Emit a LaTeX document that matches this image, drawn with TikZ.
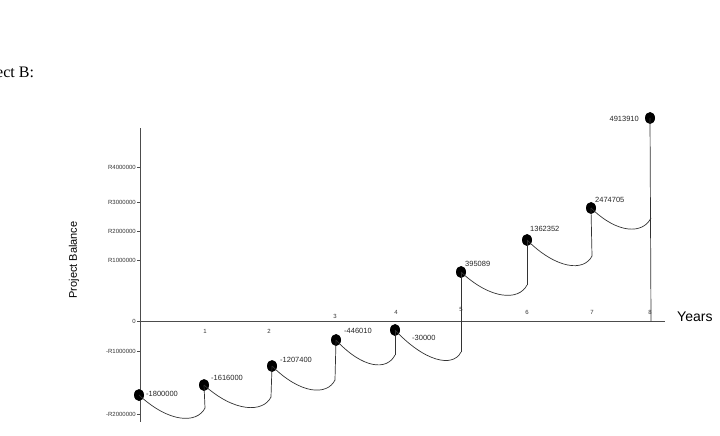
\documentclass[tikz,border=0pt]{standalone}
\usepackage{fontspec}
\usetikzlibrary{shapes.geometric,calc}
\setmainfont{Liberation Serif}
\newfontfamily\lsans{Liberation Sans}
\begin{document}
\begin{tikzpicture}[x=1pt,y=-1pt,
  axis/.style={draw=black!70,line width=0.8pt},
  flow/.style={draw=black!80,line width=0.7pt},
  dot/.style={ellipse,fill=black,minimum width=10pt,minimum height=12pt,inner sep=0pt},
  tick/.style={font=\lsans\fontsize{6}{6}\selectfont,text=black!80,anchor=east,inner sep=1pt},
  yr/.style={font=\lsans\fontsize{6}{6}\selectfont,text=black!80,inner sep=0pt},
  val/.style={font=\lsans\fontsize{7.5}{8}\selectfont,text=black!85,anchor=west,inner sep=1pt}]
\useasboundingbox (0,0) rectangle (720,436);
\node[font=\fontsize{16}{16}\selectfont,anchor=west,inner sep=0pt] (title) at (-4,72) {ect B:};
\coordinate (ytop) at (140,128);
\coordinate (ybot) at (140,422);
\coordinate (o) at (140,321);
\coordinate (xend) at (665,321);
\draw[axis] (ytop) -- (ybot);
\draw[axis] (o) -- (xend);
\node[font=\lsans\fontsize{14}{14}\selectfont,anchor=west,inner sep=0pt] (years) at (677,317) {Years};
\node[font=\lsans\fontsize{11}{11}\selectfont,rotate=90,inner sep=0pt] (pb) at (74,260) {Project Balance};
\foreach \n/\y/\t in {a/167/R4000000,b/202/R3000000,c/231/R2000000,d/260/R1000000,e/321/0,f/351/-R1000000,g/414/-R2000000}{
  \node[tick] (t\n) at (137,\y) {\t};
  \draw[axis,line width=0.5pt] (137,\y) -- (140,\y);
}
\foreach \i/\x/\y in {1/205/331,2/269/331,3/335/316,4/396/312,5/461/309,6/527/312,7/592/312,8/650/312}{
  \node[yr] (yr\i) at (\x,\y) {\i};
}
\node[dot] (p0) at (139,395) {};
\node[dot] (p1) at (204,385) {};
\node[dot] (p2) at (272,366) {};
\node[dot] (p3) at (336,340) {};
\node[dot] (p4) at (395,330) {};
\node[dot] (p5) at (461,272) {};
\node[dot] (p6) at (527,240) {};
\node[dot] (p7) at (591,208) {};
\node[dot] (p8) at (650,118) {};
\node[val] (l0) at (145,394) {-1800000};
\node[val] (l1) at (210,378) {-1616000};
\node[val] (l2) at (279,360) {-1207400};
\node[val] (l3) at (343,331) {-446010};
\node[val] (l4) at (411,338) {-30000};
\node[val] (l5) at (464,264) {395089};
\node[val] (l6) at (529,229) {1362352};
\node[val] (l7) at (594,200) {2474705};
\node[val,anchor=east] (l8) at (640,119) {4913910};
\coordinate (e1) at (205,408);
\coordinate (e2) at (271,397);
\coordinate (e3) at (335,380);
\coordinate (e4) at (395,355);
\coordinate (e5) at (461,352);
\coordinate (e6) at (527,285);
\coordinate (e7) at (592,256);
\coordinate (e8) at (651,218);
\coordinate (x8) at (651,321);
\foreach \a/\b in {p0/e1,p1/e2,p2/e3,p3/e4,p4/e5,p5/e6,p6/e7,p7/e8}{
  \draw[flow] (\a.center) .. controls ($(\a.center)!0.45!(\b)+(0,22)$) and ($(\b)+(-8,16)$) .. (\b);
}
\draw[flow] (e1) -- (p1.center);
\draw[flow] (e2) -- (p2.center);
\draw[flow] (e3) -- (p3.center);
\draw[flow] (e4) -- (p4.center);
\draw[flow] (e5) -- (p5.center);
\draw[flow] (e6) -- (p6.center);
\draw[flow] (e7) -- (p7.center);
\draw[flow] (x8) -- (p8.center);
\end{tikzpicture}
\end{document}
